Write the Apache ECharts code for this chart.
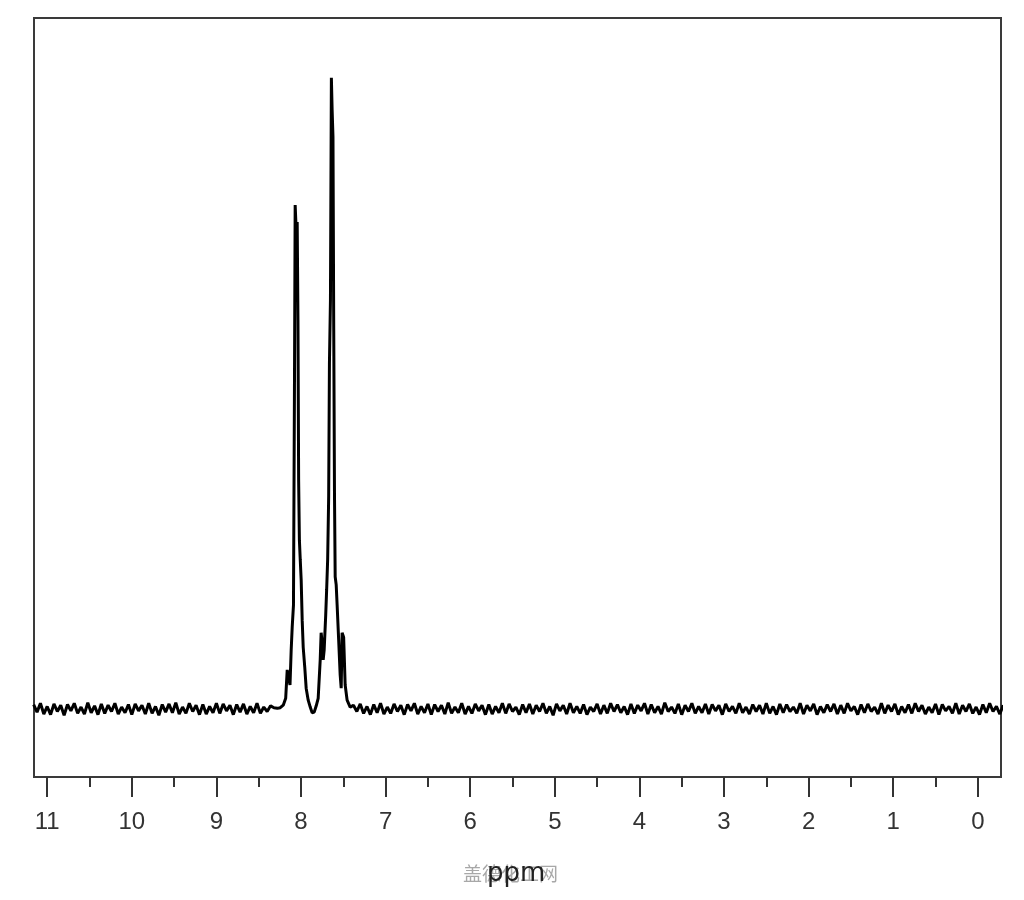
<!DOCTYPE html>
<html>
<head>
<meta charset="utf-8">
<script src="https://cdn.jsdelivr.net/npm/echarts@6/dist/echarts.min.js"></script>
<style>html,body{margin:0;padding:0;background:#fff}#c{width:1024px;height:900px}</style>
</head>
<body>
<div id="c"></div>
<script>
// Axis tick labels (ppm)
var majorTicks = [0,1,2,3,4,5,6,7,8,9,10,11];
var minorTicks = [0.5,1.5,2.5,3.5,4.5,5.5,6.5,7.5,8.5,9.5,10.5];
var xMin = -0.274, xMax = 11.156;

// Baseline noise left of the aromatic signals (from 11.16 ppm, 0.04 ppm steps)
var noiseLeftStart = 11.16, noiseStep = 0.04;
var noiseLeft = [0.7,-0.5,0.9,-0.8,0.4,-0.9,0.8,-0.4,0.6,-1.0,0.7,-0.3,0.9,-0.7,0.3,-0.8,1.0,-0.6,0.5,-0.9,
0.8,-0.7,0.6,-0.4,0.9,-0.8,0.3,-0.6,0.7,-0.9,0.8,-0.3,0.6,-0.8,0.9,-0.7,0.4,-1.0,0.7,-0.5,
0.8,-0.6,1.0,-0.8,0.3,-0.7,0.9,-0.4,0.6,-0.9,0.7,-0.8,0.4,-0.6,0.9,-0.7,0.8,-0.3,0.6,-0.9,
0.7,-0.5,0.8,-0.8,0.4,-0.6,0.9,-0.7,0.3,-0.4,0.5,0.2,0.1];

// Signal region ppm and intensity
var peakPpm = [8.245,8.210,8.181,8.163,8.146,8.130,8.116,8.104,8.089,8.078,8.069,8.057,8.045,8.036,8.028,8.019,8.009,7.998,7.986,7.974,7.956,7.939,7.915,7.891,7.868,7.844,7.820,
7.797,7.773,7.762,7.750,7.738,7.726,7.708,7.697,7.685,7.673,7.664,7.652,7.641,7.632,7.622,7.613,7.604,7.596,7.584,7.573,7.555,7.537,7.525,7.514,7.496,7.478,7.455,7.419];
var peakInt = [0.2,0.6,1.7,6.2,5.9,3.8,9.4,13.0,16.5,49.0,80.0,76.0,77.3,61.7,36.3,26.8,23.7,20.5,14.1,9.8,6.7,3.3,1.4,0.3,-0.6,-0.5,0.5,
1.7,7.8,12.1,10.5,7.8,9.4,14.9,18.9,23.7,33.7,54.9,64.9,100.2,95.1,90.8,60.2,33.7,21.0,19.7,16.5,11.0,5.4,3.3,12.1,11.4,3.8,1.4,0.3];

// Baseline noise right of the signals (from 7.38 ppm, 0.04 ppm steps)
var noiseRightStart = 7.38;
var noiseRight = [0.6,-0.4,0.8,-0.7,0.4,-0.9,0.7,-0.6,0.9,-0.8,0.3,-0.7,0.8,-0.4,0.6,-0.9,0.7,-0.3,0.9,-0.8,
0.4,-0.6,0.8,-0.9,0.7,-0.4,0.6,-0.8,1.0,-0.7,0.3,-0.6,0.9,-0.8,0.4,-0.7,0.8,-0.3,0.6,-0.9,
0.7,-0.8,0.4,-0.6,0.9,-0.7,0.8,-0.4,0.3,-0.9,0.7,-0.6,0.8,-0.8,0.6,-0.4,0.9,-0.7,0.4,-1.0,
0.8,-0.3,0.6,-0.8,0.9,-0.6,0.4,-0.7,0.7,-0.9,0.3,-0.4,0.8,-0.8,0.6,-0.7,0.9,-0.4,0.7,-0.6,
0.4,-0.9,0.8,-0.7,0.6,-0.3,0.9,-0.8,0.7,-0.6,0.4,-0.8,1.0,-0.4,0.3,-0.7,0.8,-0.9,0.6,-0.4,
0.9,-0.7,0.4,-0.6,0.8,-0.8,0.7,-0.3,0.6,-0.9,0.8,-0.4,0.4,-0.7,0.9,-0.6,0.3,-0.8,0.7,-0.4,
0.6,-0.8,0.9,-0.7,0.4,-0.9,0.8,-0.6,0.7,-0.4,0.3,-0.7,0.9,-0.8,0.6,-0.3,0.8,-0.9,0.4,-0.6,
0.7,-0.4,0.8,-0.8,0.6,-0.7,0.9,-0.3,0.4,-0.9,0.7,-0.6,0.8,-0.4,0.3,-0.8,0.9,-0.7,0.6,-0.4,
0.8,-0.9,0.4,-0.6,0.7,-0.7,0.9,-0.4,0.6,-0.8,0.3,-0.6,0.8,-0.9,0.7,-0.3,0.4,-0.7,0.9,-0.8,
0.6,-0.4,0.8,-0.7,0.3,-0.9,0.7,-0.6,0.9,-0.4,0.4,-0.8,0.6];

var spectrum = [];
noiseLeft.forEach(function(v,i){ spectrum.push([+(noiseLeftStart - i*noiseStep).toFixed(3), v]); });
peakPpm.forEach(function(p,i){ spectrum.push([p, peakInt[i]]); });
noiseRight.forEach(function(v,i){ spectrum.push([+(noiseRightStart - i*noiseStep).toFixed(3), v]); });

var chart = echarts.init(document.getElementById('c'), null, {renderer:'canvas'});
chart.setOption({
  animation: false,
  backgroundColor: '#fff',
  grid: {left: 34, top: 18, width: 967, height: 759, show: true, borderColor: '#3a3a3a', borderWidth: 2, backgroundColor: 'transparent'},
  xAxis: [{
    type: 'value', inverse: true, min: xMin, max: xMax, position: 'bottom',
    axisLine: {show: false, onZero: false},
    splitLine: {show: false},
    axisTick: {show: true, customValues: majorTicks, length: 20, lineStyle: {color: '#333', width: 2}},
    axisLabel: {show: true, customValues: majorTicks, margin: 33, fontSize: 24, color: '#333',
      fontFamily: 'Liberation Sans', formatter: function(v){ return String(v); }}
  }, {
    type: 'value', inverse: true, min: xMin, max: xMax, position: 'bottom', offset: 0,
    axisLine: {show: false, onZero: false},
    splitLine: {show: false},
    axisTick: {show: true, customValues: minorTicks, length: 10, lineStyle: {color: '#333', width: 2}},
    axisLabel: {show: false}
  }],
  yAxis: {type: 'value', min: -10.8, max: 109.7, show: false, splitLine: {show: false}},
  graphic: [
    {type: 'text', left: 463, top: 864, z: 1, style: {text: '盖德化工网', fontSize: 19, fontFamily: 'Noto Sans CJK SC', fill: '#a8a8a8'}},
    {type: 'text', left: 487, top: 861, z: 2, style: {text: 'ppm', fontSize: 26, fontFamily: 'DejaVu Sans', fill: '#222'}}
  ],
  series: [{
    type: 'line', xAxisIndex: 0, data: spectrum, showSymbol: false, smooth: false,
    lineStyle: {color: '#000', width: 3}, silent: true
  }]
});
</script>
</body>
</html>
